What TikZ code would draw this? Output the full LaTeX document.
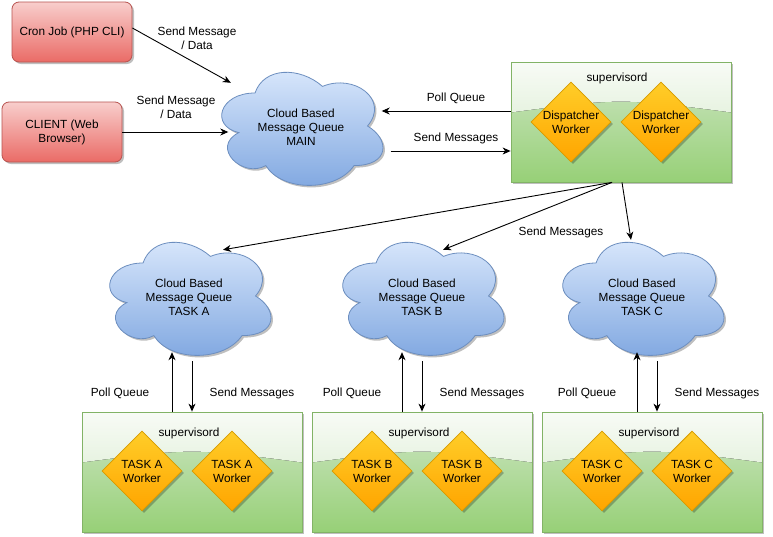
\documentclass[tikz,border=0pt]{standalone}
\usepackage{fontspec}
\setmainfont{Liberation Sans}
\usetikzlibrary{shapes.geometric,arrows.meta,shadows,calc}
\definecolor{redT}{HTML}{F8CECC}
\definecolor{redB}{HTML}{EA6B66}
\definecolor{redS}{HTML}{B85450}
\definecolor{cloT}{HTML}{DAE8FC}
\definecolor{cloB}{HTML}{7EA6E0}
\definecolor{cloS}{HTML}{6C8EBF}
\definecolor{grnT}{HTML}{CFE6C6}
\definecolor{grnB}{HTML}{97D077}
\definecolor{grnS}{HTML}{82B366}
\definecolor{glsT}{HTML}{F8FBF6}
\definecolor{glsB}{HTML}{D0E8C4}
\definecolor{dmdT}{HTML}{FFCD28}
\definecolor{dmdB}{HTML}{FFA500}
\definecolor{dmdS}{HTML}{D79B00}
\tikzset{
  myshadow/.style={drop shadow={shadow xshift=2pt,shadow yshift=-2pt,opacity=0.25,fill=black}},
  redbox/.style={rectangle,rounded corners=7pt,draw=redS,line width=0.8pt,top color=redT,bottom color=redB,
     minimum width=120,minimum height=60,inner sep=0,align=center,myshadow},
  cloudshape/.style={draw=cloS,line width=0.8pt,top color=cloT,bottom color=cloB,myshadow},
  cloudlbl/.style={rectangle,minimum width=161,minimum height=114,inner sep=0,align=center},
  supbox/.style={rectangle,draw=grnS,line width=0.8pt,minimum width=220,minimum height=120,inner sep=0,
     top color=grnT,bottom color=grnB,myshadow,
     path picture={
       \fill[top color=glsT,bottom color=glsB,draw=none]
         (path picture bounding box.north west) -- (path picture bounding box.north east)
         -- ($(path picture bounding box.north east)!0.42!(path picture bounding box.south east)$)
         .. controls ($(path picture bounding box.north)!0.30!(path picture bounding box.south)$) ..
         ($(path picture bounding box.north west)!0.42!(path picture bounding box.south west)$) -- cycle;
     }},
  worker/.style={diamond,aspect=1,draw=dmdS,line width=0.8pt,top color=dmdT,bottom color=dmdB,
     minimum width=80,minimum height=80,inner sep=0,align=center,myshadow},
  txt/.style={inner sep=0,align=center},
  arr/.style={draw=black,line width=0.9pt,-{Stealth[length=8pt,width=7pt,inset=2.5pt]}}
}
\newcommand\mqcloud[4]{%
  \begin{scope}[shift={(#2,#3)}]
    \path[cloudshape] (45,33) .. controls (9,33) and (0,66) .. (28.8,72.6)
      .. controls (0,87.12) and (32.4,118.8) .. (55.8,105.6)
      .. controls (72,132) and (126,132) .. (144,105.6)
      .. controls (180,105.6) and (180,79.2) .. (157.5,66)
      .. controls (180,39.6) and (144,13.2) .. (112.5,26.4)
      .. controls (90,6.6) and (54,6.6) .. (45,33) -- cycle;
  \end{scope}
  \node[cloudlbl] (#1) at (#2+91,#3+67) {#4};
}
\begin{document}
\begin{tikzpicture}[x=1pt,y=-1pt,font=\fontsize{11.8}{14}\selectfont]
\useasboundingbox (0,0) rectangle (773,536);
\fill[white] (0,0) rectangle (773,536);

% sources
\node[redbox] (cron) at (72,32) {Cron Job (PHP CLI)};
\node[redbox] (client) at (62,132) {CLIENT (Web\\Browser)};

% clouds
\mqcloud{mq}{210}{60}{Cloud Based\\Message Queue\\MAIN}
\mqcloud{qa}{98}{230}{Cloud Based\\Message Queue\\TASK A}
\mqcloud{qb}{331}{230}{Cloud Based\\Message Queue\\TASK B}
\mqcloud{qc}{551}{230}{Cloud Based\\Message Queue\\TASK C}

% dispatcher supervisord
\node[supbox] (sup) at (621,122) {};
\node[txt] (supl) at (617,78) {supervisord};
\node[worker] (dw1) at (571,122) {Dispatcher\\Worker};
\node[worker] (dw2) at (661,122) {Dispatcher\\Worker};

% task supervisord boxes
\node[supbox] (ba) at (192,472) {};
\node[supbox] (bb) at (422,472) {};
\node[supbox] (bc) at (652,472) {};
\node[txt] (bal) at (189,433) {supervisord};
\node[txt] (bbl) at (419,433) {supervisord};
\node[txt] (bcl) at (649,433) {supervisord};
\node[worker] (wa1) at (142,471) {TASK A\\Worker};
\node[worker] (wa2) at (232,471) {TASK A\\Worker};
\node[worker] (wb1) at (372,471) {TASK B\\Worker};
\node[worker] (wb2) at (462,471) {TASK B\\Worker};
\node[worker] (wc1) at (602,471) {TASK C\\Worker};
\node[worker] (wc2) at (692,471) {TASK C\\Worker};

% connectors: sources -> main queue
\draw[arr] ([yshift=4pt]cron.east) -- ($(mq.north west)+(10.5,13)$);
\draw[arr] (client.east) -- ($(client.east -| mq.west)+(8,0)$);
\node[txt] (l1) at (197,38) {Send Message\\/ Data};
\node[txt] (l2) at (176,107) {Send Message\\/ Data};

% main queue <-> dispatcher
\draw[arr] ($(sup.west)+(0,-11)$) -- ($(sup.west -| mq.east)+(0,-11)$);
\draw[arr] ($(sup.west -| mq.east)+(9,29)$) -- ($(sup.west)+(0,29)$);
\node[txt] (l3) at (456,98) {Poll Queue};
\node[txt] (l4) at (456,138) {Send Messages};

% dispatcher -> task queues
\draw[arr] ($(sup.south)+(-9,0)$) -- ($(qa.north)+(34,10)$);
\draw[arr] ($(sup.south)+(-9,0)$) -- ($(qb.north)+(21,10)$);
\draw[arr] ($(sup.south)+(1,0)$) -- ($(qc.north)+(-11,0)$);
\node[txt] (l5) at (561,232) {Send Messages};

% task queues <-> workers
\path ($(ba.north)+(-20,0)$) coordinate (au) ($(ba.north)+(0,0)$) coordinate (ad);
\path ($(bb.north)+(-20,0)$) coordinate (bu) ($(bb.north)+(0,0)$) coordinate (bd);
\path ($(bc.north)+(-15,0)$) coordinate (cu) ($(bc.north)+(5,0)$) coordinate (cd);
\draw[arr] (au) -- ($(au |- qa.south)+(0,-2)$);
\draw[arr] ($(ad |- qa.south)+(0,7)$) -- (ad);
\draw[arr] (bu) -- ($(bu |- qb.south)+(0,-2)$);
\draw[arr] ($(bd |- qb.south)+(0,7)$) -- (bd);
\draw[arr] (cu) -- ($(cu |- qc.south)+(0,-2)$);
\draw[arr] ($(cd |- qc.south)+(0,7)$) -- (cd);
\node[txt] (pa) at (120,393) {Poll Queue};
\node[txt] (sa) at (252,393) {Send Messages};
\node[txt] (pb) at (352,393) {Poll Queue};
\node[txt] (sb) at (482,393) {Send Messages};
\node[txt] (pc) at (587,393) {Poll Queue};
\node[txt] (sc) at (717,393) {Send Messages};
\end{tikzpicture}
\end{document}
